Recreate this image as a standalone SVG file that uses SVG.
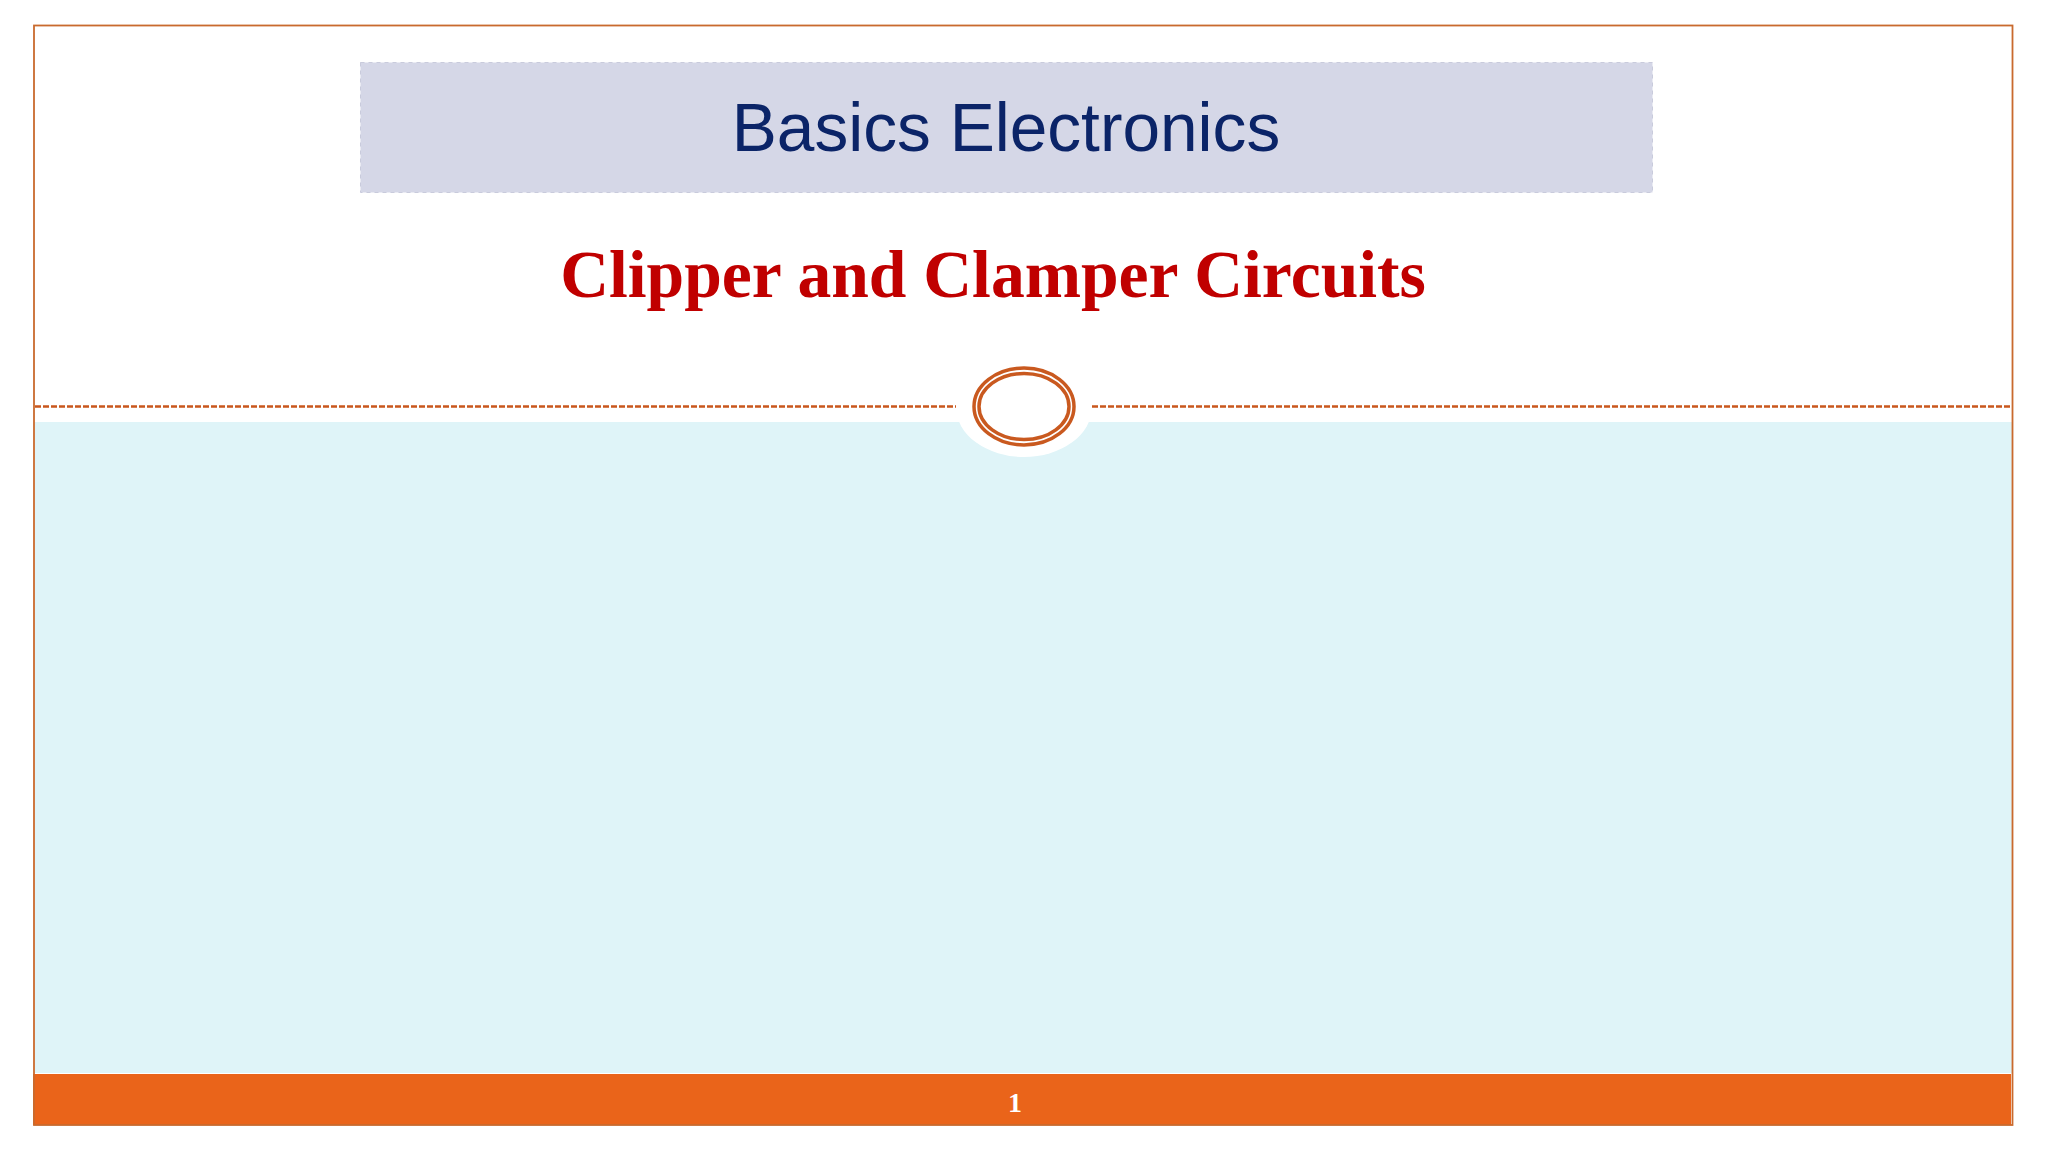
<svg xmlns="http://www.w3.org/2000/svg" width="2048" height="1152" viewBox="0 0 2048 1152">
<style>
.dash{stroke:#c9571d;stroke-width:2.500;stroke-dasharray:6 2;fill:none}
.ring{stroke:#c9591f;stroke-width:3.500;fill:none}
</style>
<rect width="2048" height="1152" fill="#ffffff"/>
<rect id="panel" x="35" y="422" width="1977" height="651" fill="#dff4f8"/>
<rect id="footer" x="33" y="1074" width="1978" height="51" fill="#ea641a"/>
<rect id="frame" x="34" y="25.500" width="1978.500" height="1099.500" fill="none" stroke="#c96a2e" stroke-width="1.800"/>
<rect id="title-box" x="360.500" y="62.500" width="1292" height="130" fill="#d5d7e7" stroke="#c9cbdc" stroke-width="1" stroke-dasharray="4 4"/>
<text x="1006" y="151" text-anchor="middle" font-family="'Liberation Sans',Arial,sans-serif" font-size="67.600" fill="#0b2468">Basics Electronics</text>
<text x="993" y="297" text-anchor="middle" font-family="'Liberation Serif','Times New Roman',serif" font-size="67.600" font-weight="700" fill="#c00000">Clipper and Clamper Circuits</text>
<g id="divider">
<path d="M35 406.500H956" class="dash"/>
<path d="M1092 406.500H2012" class="dash"/>
<ellipse cx="1024" cy="407" rx="68" ry="50" fill="#ffffff"/>
<ellipse cx="1024" cy="406.500" rx="50" ry="38.500" class="ring" fill="#ffffff"/>
<ellipse cx="1024" cy="406.500" rx="45" ry="33" class="ring"/>
</g>
<text x="1015" y="1112" text-anchor="middle" font-family="'Liberation Serif',serif" font-size="28" font-weight="700" fill="#ffffff">1</text>
</svg>
